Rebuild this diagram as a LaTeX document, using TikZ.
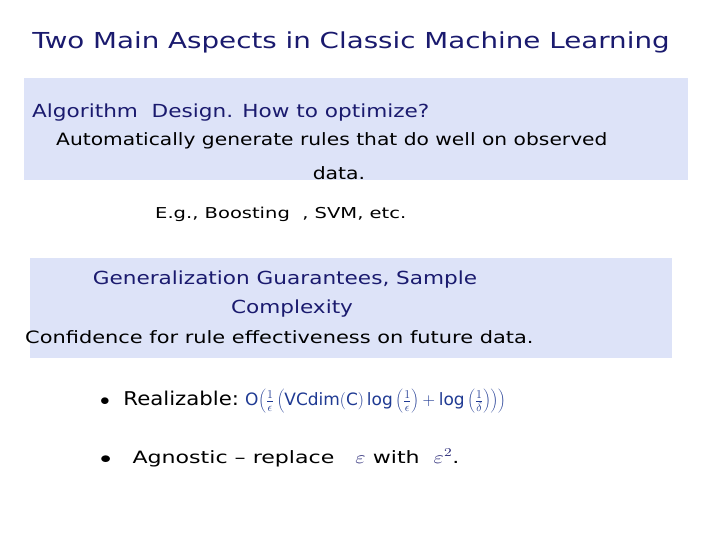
\documentclass[tikz,border=0pt]{standalone}
\usepackage{fontspec}
\setmainfont{DejaVu Sans}
\definecolor{navy}{HTML}{1A1A6E}
\definecolor{boxbg}{HTML}{DDE3F8}
\definecolor{mblue}{HTML}{1F3A93}
\newcommand{\wide}[2]{\scalebox{#1}[1]{#2}}
\begin{document}
\begin{tikzpicture}[x=1pt,y=-1pt,
  txt/.style={inner sep=0pt,font=\fontsize{17}{20}\selectfont},
  hd/.style={txt,text=navy,font=\fontsize{18}{21}\selectfont},
  panel/.style={fill=boxbg,draw=none}]
\useasboundingbox (0,0) rectangle (720,540);
\fill[white] (0,0) rectangle (720,540);
\node[panel,minimum width=664,minimum height=102,anchor=north west,inner sep=0] (b1) at (24,78) {};
\node[panel,minimum width=642,minimum height=100,anchor=north west,inner sep=0] (b2) at (30,258) {};
\node[txt,text=navy,font=\fontsize{22}{26}\selectfont] (title) at (351,42) {\wide{1.26}{Two Main Aspects in Classic Machine Learning}};
\node[hd,anchor=west] (alg) at (32,113) {\wide{1.2}{Algorithm\ \ Design. How to optimize?}};
\node[txt,anchor=west] (auto) at (56,141) {\wide{1.19}{Automatically generate rules that do well on observed}};
\node[txt] (data) at (339,173) {\wide{1.2}{data.}};
\node[txt,font=\fontsize{15}{18}\selectfont,anchor=west] (eg) at (155,214) {\wide{1.3}{E.g., Boosting\ \ , SVM, etc.}};
\node[hd] (gen1) at (285,280) {\wide{1.2}{Generalization Guarantees, Sample}};
\node[hd] (gen2) at (292,309) {\wide{1.2}{Complexity}};
\node[txt,anchor=west] (conf) at (25,337) {\wide{1.23}{Confidence for rule effectiveness on future data.}};
\node[txt,anchor=west,font=\fontsize{19}{22}\selectfont] (b1t) at (100,401) {\wide{1.12}{$\bullet$\ \ Realizable:} \textcolor{mblue}{\fontsize{17}{20}\selectfont $\mathrm{O}\!\left(\frac{1}{\epsilon}\left(\mathrm{VCdim(C)}\log\left(\frac{1}{\epsilon}\right)+\log\left(\frac{1}{\delta}\right)\right)\right)$}};
\node[txt,anchor=west] (b2t) at (100,458) {\wide{1.3}{$\bullet$\ \ \ Agnostic -- replace\ \ \ \textcolor{navy}{$\varepsilon$} with\ \ \textcolor{navy}{$\varepsilon^2$}.}};
\end{tikzpicture}
\end{document}
